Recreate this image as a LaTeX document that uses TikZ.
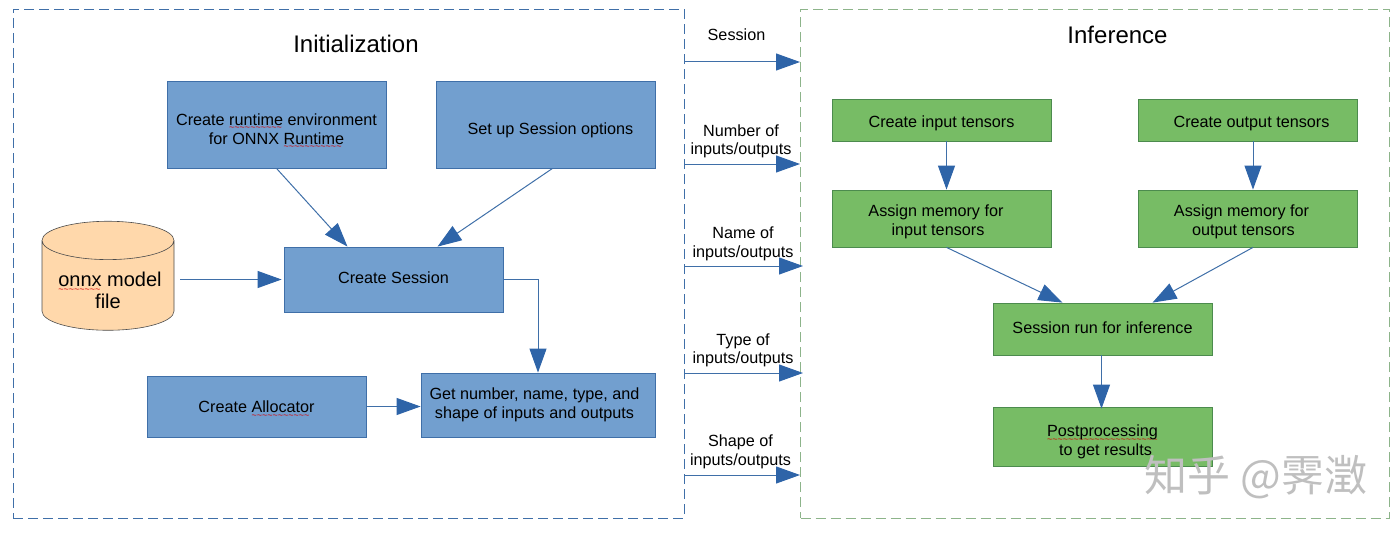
\documentclass[tikz,border=0pt]{standalone}
\usepackage{fontspec}
\setmainfont{Liberation Sans}
\newfontfamily\cjkfont{Noto Sans CJK SC}
\usepackage{xcolor}
\usetikzlibrary{positioning}
\usetikzlibrary{arrows.meta}
\usetikzlibrary{shapes.geometric}
\definecolor{boxblue}{HTML}{729FCF}
\definecolor{lineblue}{HTML}{3F6FA8}
\definecolor{tipblue}{HTML}{2E64A8}
\definecolor{boxgreen}{HTML}{77BC65}
\definecolor{linegreen}{HTML}{4C8B4E}
\definecolor{framegreen}{HTML}{8DB48A}
\definecolor{peach}{HTML}{FFD8AB}
\newsavebox{\squigbox}
\newcommand{\squig}[1]{\sbox{\squigbox}{#1}\leavevmode\rlap{\hbox to \wd\squigbox{\leaders\hbox{{\color{red!85!black}\raisebox{-5.5pt}{\fontsize{9}{9}\selectfont\char`\~}}}\hfil}}#1}
\newcommand{\lifted}[1]{\rule{0pt}{#1pt}}
\tikzset{
  bluebox/.style={draw=lineblue,fill=boxblue,line width=0.8pt,minimum width=219pt,inner sep=0pt,align=center,
    font=\fontsize{16.2}{19}\selectfont},
  greenbox/.style={draw=linegreen,fill=boxgreen,line width=0.8pt,minimum width=219pt,inner sep=0pt,align=center,
    font=\fontsize{16.2}{18.5}\selectfont},
  flow/.style={color=lineblue,line width=1pt,-{Triangle[length=24pt,width=17pt,color=tipblue]}},
  between/.style={align=center,font=\fontsize{16.2}{18.5}\selectfont},
  title/.style={font=\fontsize{24}{28}\selectfont},
}
\begin{document}
\begin{tikzpicture}[x=1pt,y=-1pt,node distance=100pt,on grid]
   \useasboundingbox (0,0) rectangle (1400,535);
   % the two frames
   \node[draw=lineblue,dash pattern=on 10pt off 5pt,line width=0.8pt,minimum width=671pt,minimum height=509pt,inner sep=0pt] (initframe) at (348.5,263.5) {};
   \node[draw=framegreen,dash pattern=on 10pt off 5pt,line width=0.8pt,minimum width=589pt,minimum height=509pt,inner sep=0pt] (infframe) at (1095,263.5) {};
   \node[title] (inittitle) at (356,44) {Initialization};
   \node[title] (inftitle) at (1117.5,35) {Inference};
   % Initialization
   \node[bluebox,minimum height=87pt] (runtime) at (276.5,124.5) {\lifted{26}Create \squig{runtime} environment\\for ONNX \squig{Runtime}};
   \node[bluebox,minimum height=87pt] (options) [right=269pt of runtime] {\lifted{24}\hspace*{10pt}Set up Session options};
   \node[bluebox,minimum height=65pt] (session) [below right=155pt and 117pt of runtime] {Create Session\rule[-3pt]{0pt}{3pt}};
   \node[cylinder,shape border rotate=90,aspect=0.357,draw=black!70,line width=0.6pt,fill=peach,minimum width=132pt,minimum height=109pt,inner sep=0pt,align=center,
     font=\fontsize{20}{22}\selectfont] (model) at (108,285.5) {\lifted{25}\hspace*{4pt}\squig{onnx} model\\file};
   \node[bluebox,minimum height=61pt] (allocator) at (256.5,406.5) {\lifted{18}Create \squig{Allocator}};
   \node[bluebox,minimum width=234pt,minimum height=64pt] (getinfo) [below right=125.5pt and 144.5pt of session] {\hspace*{-7pt}Get number, name, type, and\\\hspace*{-7pt}shape of inputs and outputs};
   \path[flow]
    (runtime.south) edge ([xshift=-46pt]session.north)
    ([xshift=7pt]options.south) edge ([xshift=44pt]session.north)
    ([xshift=6pt]model.east |- session) edge ([xshift=-2pt]session.west)
    (allocator.east) edge (getinfo.west |- allocator.east);
   \draw[flow] (session.east) -| (getinfo.north);
   % what goes across
   \coordinate (a_0) at (684,62);
   \coordinate[right=116pt of a_0] (b_0);
   \coordinate (a_1) at (684,164);
   \coordinate[right=116pt of a_1] (b_1);
   \coordinate (a_2) at (684,266);
   \coordinate[right=119pt of a_2] (b_2);
   \coordinate (a_3) at (684,373);
   \coordinate[right=119pt of a_3] (b_3);
   \coordinate (a_4) at (684,475);
   \coordinate[right=116pt of a_4] (b_4);
   \path[flow]
    (a_0) edge (b_0)
    (a_1) edge (b_1)
    (a_2) edge (b_2)
    (a_3) edge (b_3)
    (a_4) edge (b_4);
   \node[between] (l_0) at (736.5,35) {Session};
   \node[between] (l_1) at (741,141.5) {Number of\\inputs/outputs};
   \node[between] (l_2) at (743,244) {Name of\\inputs/outputs};
   \node[between] (l_3) at (743,350.5) {Type of\\inputs/outputs};
   \node[between] (l_4) at (740.5,452) {Shape of\\inputs/outputs};
   % Inference
   \node[greenbox,minimum height=42pt] (intensor) at (941.5,120) {\lifted{18}Create input tensors};
   \node[greenbox,minimum height=42pt] (outtensor) [right=306.5pt of intensor] {\lifted{18}\hspace*{7pt}Create output tensors};
   \node[greenbox,minimum height=57pt] (inmem) [below=98.5pt of intensor] {\lifted{18}\hspace*{-11pt}Assign memory for\\\hspace*{-7pt}input tensors};
   \node[greenbox,minimum height=57pt] (outmem) [below=98.5pt of outtensor] {\lifted{18}\hspace*{-13pt}Assign memory for\\\hspace*{-9pt}output tensors};
   \node[greenbox,minimum height=52pt] (run) at (1102.5,329) {Session run for inference\rule[-2pt]{0pt}{2pt}};
   \node[greenbox,minimum height=59pt] (post) [below=107.5pt of run] {\lifted{22}\squig{Postprocessing}\\\hspace*{6pt}to get results};
   \path[flow]
    ([xshift=5pt]intensor.south) edge ([xshift=5pt]inmem.north)
    ([xshift=5pt]outtensor.south) edge ([xshift=5pt]outmem.north)
    ([xshift=5pt]inmem.south) edge ([xshift=-40pt]run.north)
    ([xshift=5pt]outmem.south) edge ([xshift=50pt]run.north)
    ([xshift=-1pt]run.south) edge ([xshift=-1pt,yshift=-2pt]post.north);
   % watermark
   \node[text=black!25,font=\cjkfont\fontsize{43}{46}\selectfont] (mark) at (1256,477) {知乎 @霁澂};
\end{tikzpicture}
\end{document}
